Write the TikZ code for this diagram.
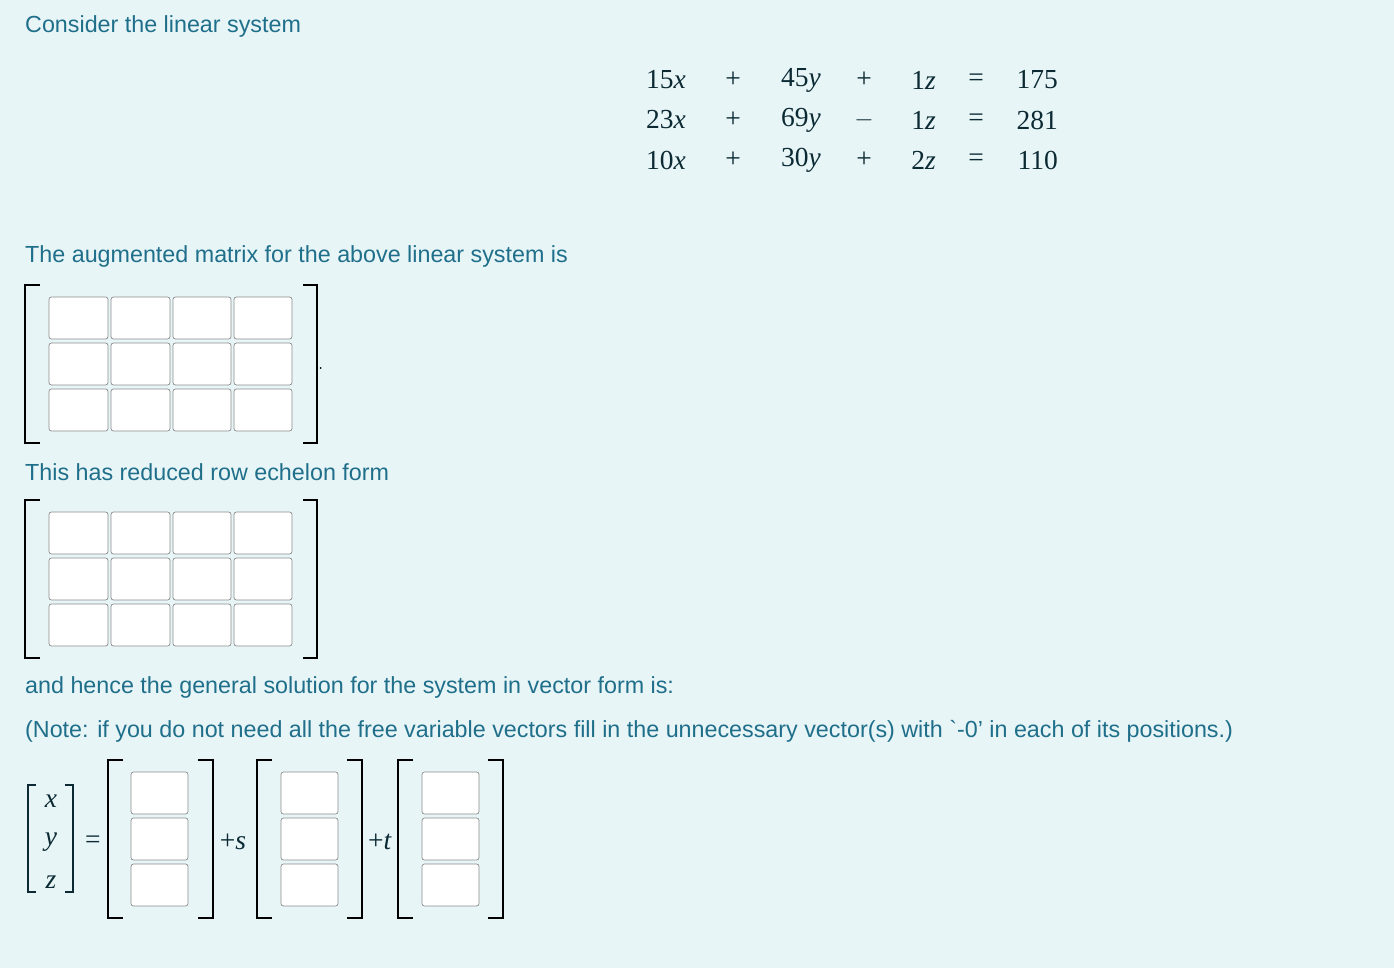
\documentclass[tikz,border=0pt]{standalone}
\usepackage{fontspec}
\setmainfont{Liberation Sans}
\newfontfamily\mathf{Liberation Serif}
\definecolor{bg}{HTML}{E8F5F7}
\definecolor{txt}{HTML}{1F6F8B}
\definecolor{mth}{HTML}{0B2A33}
\begin{document}
\begin{tikzpicture}[x=1pt,y=-1pt,
  lbl/.style={anchor=west,text=txt,font=\fontsize{23.3}{26}\selectfont,inner sep=0},
  eq/.style={text=mth,font=\mathf\fontsize{27.5}{30}\selectfont,inner sep=0},
  cell/.style={draw=gray!90,fill=white,rounded corners=2.5pt,line width=0.7pt},
  brk/.style={line width=2.2pt,black},
  sbrk/.style={line width=1.3pt,mth}]
\fill[bg] (0,0) rectangle (1394,968);
\useasboundingbox (0,0) rectangle (1394,968);
\node[lbl] (t1) at (25,26) {Consider the linear system};
\node[lbl] (t2) at (25,256) {The augmented matrix for the above linear system is};
\node[lbl] (t3) at (25,472) {This has reduced row echelon form};
\node[lbl] (t4) at (25,687) {and hence the general solution for the system in vector form is:};
\node[lbl] (t5) at (25,731) {(Note: if you do not need all the free variable vectors fill in the unnecessary vector(s) with \textasciigrave-0' in each of its positions.)};
% equations
\foreach \r/\a/\b/\sb/\c/\d [count=\i] in {80/15/45/+/1/175, 120/23/69/$-$/1/281, 160/10/30/+/2/110}{
  \node[eq,anchor=east] (a\i) at (686,\r) {\a\textit{x}};
  \node[eq] (p\i) at (733,\r) {+};
  \node[eq,anchor=east] (b\i) at (821,\r) {\b\textit{y}};
  \node[eq] (s\i) at (864,\r) {\sb};
  \node[eq,anchor=east] (c\i) at (936,\r) {\c\textit{z}};
  \node[eq] (e\i) at (976,\r) {=};
  \node[eq,anchor=east] (d\i) at (1058,\r) {\d};
}
% matrices
\foreach \top/\nm in {297/A,512/R}{
  \foreach \x/\w [count=\j] in {49/59,111/59,173/58,234/58}{
    \foreach \k in {0,1,2}{
      \draw[cell] (\x,\top+\k*46) rectangle ++(\w,42);
    }
  }
  \draw[brk] (40,\top-12) -- (25,\top-12) -- (25,\top+146) -- (40,\top+146);
  \draw[brk] (303,\top-12) -- (317,\top-12) -- (317,\top+146) -- (303,\top+146);
}
\fill[black] (320.5,368) circle (1pt);
% vector solution
\draw[sbrk] (36,785) -- (28,785) -- (28,892) -- (36,892);
\draw[sbrk] (65,785) -- (73,785) -- (73,892) -- (65,892);
\node[eq] (vx) at (51,801) {\textit{x}};
\node[eq] (vy) at (51,842) {\textit{y}};
\node[eq] (vz) at (51,882) {\textit{z}};
\node[eq] (veq) at (93,842) {=};
\foreach \l/\bx/\r in {108/131/213, 257/281/362, 398/422/503}{
  \foreach \k in {0,1,2}{\draw[cell] (\bx,772+\k*46) rectangle ++(57,42);}
  \draw[brk] (\l+15,760) -- (\l,760) -- (\l,918) -- (\l+15,918);
  \draw[brk] (\r-15,760) -- (\r,760) -- (\r,918) -- (\r-15,918);
}
\node[eq] (ps) at (233,842) {+\textit{s}};
\node[eq] (pt) at (380,842) {+\textit{t}};
\end{tikzpicture}
\end{document}
